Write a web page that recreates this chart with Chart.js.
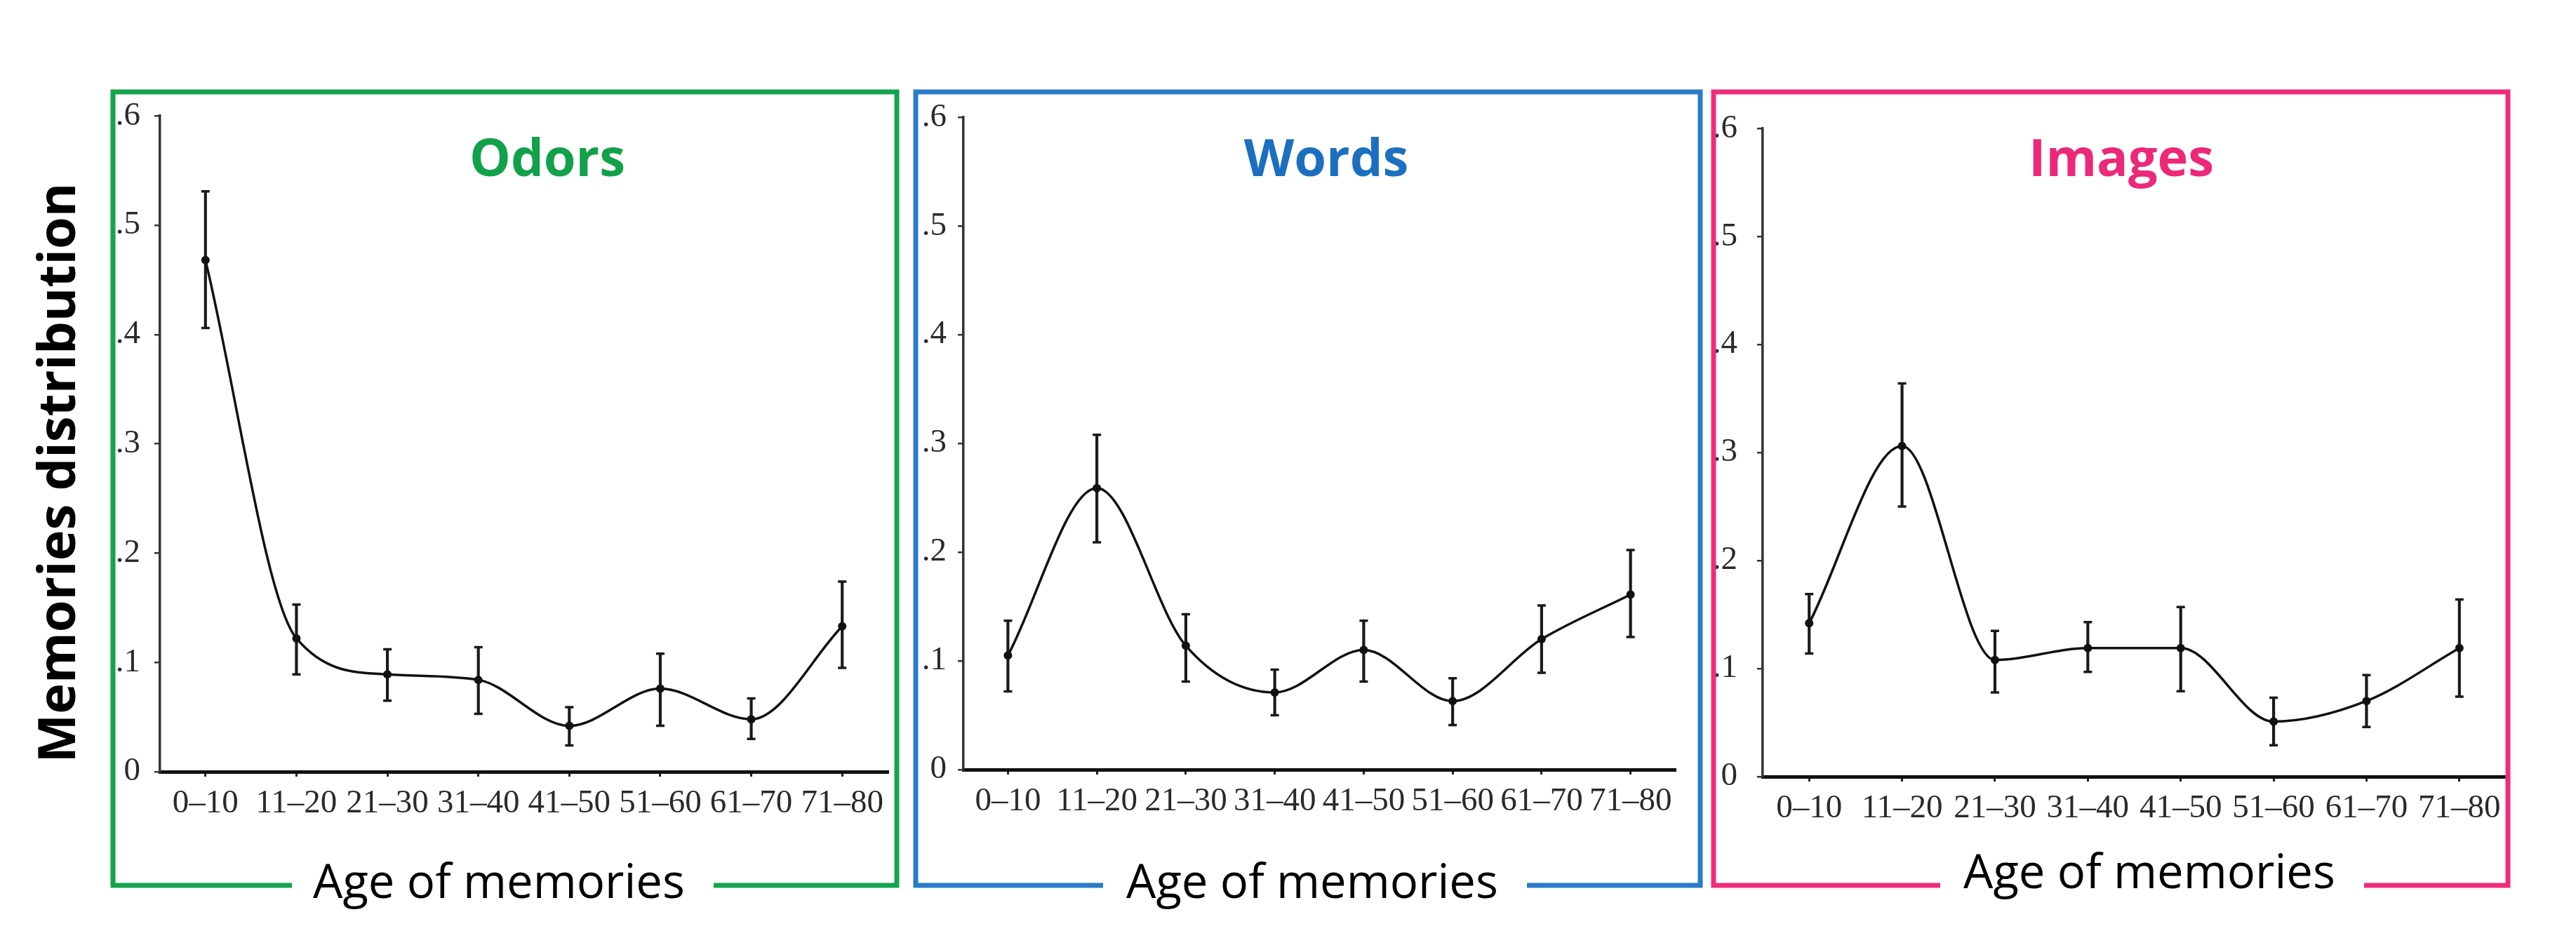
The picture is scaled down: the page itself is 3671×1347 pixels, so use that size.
<!DOCTYPE html>
<html>
<head>
<meta charset="utf-8">
<script src="https://cdn.jsdelivr.net/npm/chart.js@4.4.1/dist/chart.umd.min.js"></script>
<style>
html, body { margin: 0; padding: 0; background: #fff; }
#page { position: relative; width: 3671px; height: 1347px; overflow: hidden; background: #fff; }
.plot { position: absolute; }
#overlay { position: absolute; left: 0; top: 0; pointer-events: none; }
</style>
</head>
<body>
<div id="page">
    <div class="plot" id="wrapOdors"><canvas id="odorsChart"></canvas></div>
    <div class="plot" id="wrapWords"><canvas id="wordsChart"></canvas></div>
    <div class="plot" id="wrapImages"><canvas id="imagesChart"></canvas></div>

    <svg id="overlay" width="3671" height="1347">
        <g fill="none" stroke-width="7">
            <path d="M416 1262 H161 V131 H1278 V1262 H1017" stroke="#14A44D"/>
            <path d="M1572 1262 H1305 V131 H2423 V1262 H2176" stroke="#2A7BC8"/>
            <path d="M2765 1262 H2442 V131 H3574 V1262 H3369" stroke="#EE2C7C"/>
        </g>
        <g font-family="'Open Sans', sans-serif" font-weight="700" font-size="74" text-anchor="middle">
            <text x="780" y="251" fill="#12A14B">Odors</text>
            <text x="1890" y="251" fill="#1C6FBF">Words</text>
            <text x="3023" y="251" fill="#EC2879">Images</text>
        </g>
        <g font-family="'Open Sans', sans-serif" font-size="67" text-anchor="middle" fill="#000">
            <text x="711" y="1280">Age of memories</text>
            <text x="1870" y="1280">Age of memories</text>
            <text x="3063" y="1266">Age of memories</text>
        </g>
        <text transform="translate(107,674) rotate(-90)" font-family="'Open Sans', sans-serif"
              font-weight="700" font-size="74" text-anchor="middle" fill="#000">Memories distribution</text>
    </svg>
</div>

<script>
// ===== DATA =====
const ageBins = ["0–10", "11–20", "21–30", "31–40", "41–50", "51–60", "61–70", "71–80"];
const yTickLabels = ["0", ".1", ".2", ".3", ".4", ".5", ".6"];

const odorsMean = [0.468, 0.122, 0.089, 0.084, 0.042, 0.076, 0.048, 0.133];
const odorsHigh = [0.531, 0.153, 0.112, 0.114, 0.059, 0.108, 0.067, 0.174];
const odorsLow  = [0.406, 0.089, 0.065, 0.053, 0.024, 0.042, 0.030, 0.095];

const wordsMean = [0.105, 0.259, 0.114, 0.071, 0.110, 0.063, 0.120, 0.161];
const wordsHigh = [0.137, 0.308, 0.143, 0.092, 0.137, 0.084, 0.151, 0.202];
const wordsLow  = [0.072, 0.209, 0.081, 0.050, 0.081, 0.041, 0.089, 0.122];

const imagesMean = [0.142, 0.306, 0.108, 0.119, 0.119, 0.051, 0.070, 0.119];
const imagesHigh = [0.169, 0.364, 0.135, 0.143, 0.157, 0.073, 0.094, 0.164];
const imagesLow  = [0.114, 0.250, 0.078, 0.097, 0.079, 0.029, 0.046, 0.074];

// ===== LAYOUT (plot area in page pixels) =====
const AXIS_W = 80;
const AXIS_H = 90;
const PAD_T = 40;
const PAD_R = 15;

function renderPanel(wrapId, canvasId, mean, high, low, area) {

    const wrap = document.getElementById(wrapId);
    wrap.style.left = (area.left - AXIS_W) + "px";
    wrap.style.top = (area.top - PAD_T) + "px";
    wrap.style.width = (area.right - area.left + AXIS_W + PAD_R) + "px";
    wrap.style.height = (area.bottom - area.top + PAD_T + AXIS_H) + "px";

    // floating bars give the vertical error-bar strokes
    const errRange = low.map((v, i) => [v, high[i]]);

    const ctx = document.getElementById(canvasId).getContext("2d");

    new Chart(ctx, {
        type: "line",
        data: {
            labels: ageBins,
            datasets: [
                {
                    type: "line",
                    data: mean,
                    borderColor: "#111",
                    borderWidth: 3.5,
                    cubicInterpolationMode: "monotone",
                    pointRadius: 6,
                    pointBackgroundColor: "#111",
                    pointBorderWidth: 0,
                    order: 0
                },
                {
                    type: "bar",
                    data: errRange,
                    backgroundColor: "#1a1a1a",
                    barThickness: 3.5,
                    order: 2
                },
                {
                    type: "line",
                    data: high,
                    showLine: false,
                    pointStyle: "line",
                    pointRadius: 6,
                    borderColor: "#1a1a1a",
                    borderWidth: 3.5,
                    order: 1
                },
                {
                    type: "line",
                    data: low,
                    showLine: false,
                    pointStyle: "line",
                    pointRadius: 6,
                    borderColor: "#1a1a1a",
                    borderWidth: 3.5,
                    order: 1
                }
            ]
        },
        options: {
            responsive: true,
            maintainAspectRatio: false,
            animation: false,
            events: [],
            layout: {
                padding: { top: PAD_T, right: PAD_R, left: 0, bottom: 0 }
            },
            plugins: {
                legend: { display: false },
                tooltip: { enabled: false }
            },
            scales: {
                x: {
                    type: "category",
                    offset: true,
                    afterFit: s => { s.height = AXIS_H; },
                    grid: {
                        offset: false,
                        drawOnChartArea: false,
                        tickLength: 7,
                        lineWidth: 3,
                        color: "#222"
                    },
                    border: { color: "#111", width: 5 },
                    ticks: {
                        autoSkip: false,
                        maxRotation: 0,
                        padding: 10,
                        color: "#2a2a2a",
                        font: { family: "'Liberation Serif', serif", size: 47 }
                    }
                },
                y: {
                    min: 0,
                    max: 0.6,
                    afterFit: s => { s.width = AXIS_W; },
                    grid: {
                        drawOnChartArea: false,
                        tickLength: 8,
                        lineWidth: 2.5,
                        color: "#333"
                    },
                    border: { color: "#333", width: 3.5 },
                    ticks: {
                        stepSize: 0.1,
                        padding: area.yPad,
                        color: "#2a2a2a",
                        font: { family: "'Liberation Serif', serif", size: 47 },
                        callback: v => yTickLabels[Math.round(v * 10)]
                    }
                }
            }
        }
    });
}

renderPanel("wrapOdors", "odorsChart", odorsMean, odorsHigh, odorsLow,
    { left: 228, right: 1265, top: 157, bottom: 1100, yPad: 20 });

renderPanel("wrapWords", "wordsChart", wordsMean, wordsHigh, wordsLow,
    { left: 1373, right: 2387, top: 163, bottom: 1097, yPad: 16 });

renderPanel("wrapImages", "imagesChart", imagesMean, imagesHigh, imagesLow,
    { left: 2512, right: 3571, top: 167, bottom: 1107, yPad: 28 });
</script>
</body>
</html>
